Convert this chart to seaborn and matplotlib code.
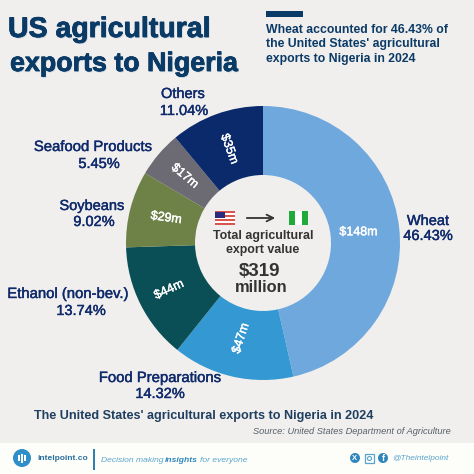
import matplotlib
matplotlib.use('Agg')
import matplotlib.pyplot as plt
import matplotlib.patheffects as pe
from matplotlib.patches import Circle, Rectangle
import numpy as np
import seaborn as sns

# dados
categories = ['Wheat', 'Food Preparations', 'Ethanol (non-bev.)', 'Soybeans', 'Seafood Products', 'Others']
shares = [46.43, 14.32, 13.74, 9.02, 5.45, 11.04]
values = ['$148m', '$47m', '$44m', '$29m', '$17m', '$35m']
colors = ['#6fa8dc', '#3498d3', '#0b4f56', '#6e8248', '#6c6a72', '#0a2a6c']

sns.set_theme(style='white')
plt.rcParams['font.family'] = ['Liberation Sans', 'DejaVu Sans']

BG = '#f0efee'
NAVY = '#0a3a66'
LABEL = '#0f2a6b'
H = 474

fig = plt.figure(figsize=(4.74, 4.74), dpi=100, facecolor=BG)
ax = fig.add_axes([0, 0, 1, 1])
ax.set_facecolor(BG)


def put(x, y, s, **kw):
    kw.setdefault('ha', 'center')
    kw.setdefault('va', 'center')
    return ax.text(x, H - y, s, **kw)


# donut
wedges, _ = ax.pie(shares, colors=colors, startangle=90, counterclock=False,
                   center=(263, H - 243), radius=137, frame=True,
                   wedgeprops=dict(width=137 - 68, edgecolor='none'))
ax.set_xlim(0, 474)
ax.set_ylim(0, 474)
ax.set_aspect('equal')
ax.axis('off')

# valores dentro das fatias
rotations = [0, 72, 25, -8, -40, -70]
radii = [96, 98, 105, 100, 103, 100]
semi = [pe.withStroke(linewidth=0.3, foreground='white')]
for w, v, rot, r in zip(wedges, values, rotations, radii):
    a = np.deg2rad((w.theta1 + w.theta2) / 2)
    ax.text(263 + r * np.cos(a), H - 243 + r * np.sin(a), v, color='white', fontsize=9,
            rotation=rot, ha='center', va='center', rotation_mode='anchor', path_effects=semi)

# rotulos externos
name_pos = [(428, 221), (160, 378), (68, 294), (92, 206), (93, 147), (183, 94)]
pct_pos = [(428, 236), (160, 394), (81, 311), (94, 222), (99, 164), (184, 111)]
name_sizes = [10.5, 10.7, 10.7, 10.5, 10.7, 10.5]
heavy = [pe.withStroke(linewidth=0.3, foreground=LABEL)]
for (x, y), (px, py), c, s, fs in zip(name_pos, pct_pos, categories, shares, name_sizes):
    put(x, y, c, color=LABEL, fontsize=fs, path_effects=heavy)
    put(px, py, f'{s:.2f}%', color=LABEL, fontsize=10.5, path_effects=heavy)

# titulo
title_fx = [pe.withSimplePatchShadow(offset=(0.6, -0.8), shadow_rgbFace='#9fb4c6', alpha=0.6),
            pe.withStroke(linewidth=0.5, foreground=NAVY)]
put(8, 30, 'US agricultural', color=NAVY, fontsize=20.5, fontweight='bold', ha='left', path_effects=title_fx)
put(10, 64, 'exports to Nigeria', color=NAVY, fontsize=19.3, fontweight='bold', ha='left', path_effects=title_fx)

# destaque
ax.add_patch(Rectangle((266, H - 17), 37, 6, color=NAVY, lw=0))
for y, s in zip([30, 44, 59], ['Wheat accounted for 46.43% of', "the United States' agricultural",
                               'exports to Nigeria in 2024']):
    put(266, y, s, color=NAVY, fontsize=8.8, fontweight='bold', ha='left')

# centro
for i in range(7):
    ax.add_patch(Rectangle((215, H - 225 + i * 2), 20, 2, color='#d9534f' if i % 2 == 0 else 'white', lw=0))
ax.add_patch(Rectangle((215, H - 218), 10, 6, color='#2a2a80', lw=0))
ax.annotate('', xy=(278, H - 218), xytext=(244, H - 218),
            arrowprops=dict(arrowstyle='->', color='#333333', lw=1.3))
ax.add_patch(Rectangle((289, H - 225), 19, 14, color='white', lw=0))
ax.add_patch(Rectangle((289, H - 225), 6.5, 14, color='#1faa3a', lw=0))
ax.add_patch(Rectangle((302, H - 225), 6.5, 14, color='#1faa3a', lw=0))
put(263, 236, 'Total agricultural', color='#333333', fontsize=8.9, fontweight='bold')
put(263, 250, 'export value', color='#333333', fontsize=8.9, fontweight='bold')
put(260, 271, '$319', color='#333333', fontsize=13.5, fontweight='bold')
put(261, 287, 'million', color='#333333', fontsize=11.8, fontweight='bold')

# rodape
put(34, 416, "The United States' agricultural exports to Nigeria in 2024", color='#1f3f5f',
    fontsize=9.1, fontweight='bold', ha='left')
put(451, 432, 'Source: United States Department of Agriculture', color='#55606a',
    fontsize=6.7, style='italic', ha='right')
ax.add_patch(Rectangle((0, 0), 474, H - 443, color='#fdfdf9', lw=0))
ax.add_patch(Circle((22, H - 458), 9, color='#2f8fc8', lw=0))
for dx, hh in zip([-3, 0, 3], [6, 9, 6]):
    ax.add_patch(Rectangle((22 + dx - 0.8, H - 458 - hh / 2), 1.6, hh, color='white', lw=0))
put(37, 458, 'intelpoint.co', color='#2a6f9e', fontsize=6, fontweight='bold', ha='left')
ax.add_patch(Rectangle((93.5, H - 470), 1.2, 21, color='#2f7fb0', lw=0))
put(101, 460, 'Decision making', color='#5aa5cf', fontsize=6.1, style='italic', ha='left')
put(165, 460, 'insights', color='#2f86bd', fontsize=6.1, style='italic', fontweight='bold', ha='left')
put(200, 460, 'for everyone', color='#5aa5cf', fontsize=6.1, style='italic', ha='left')
ax.add_patch(Circle((355, H - 458), 5, color='#2f86bd', lw=0))
put(355, 458, 'X', color='white', fontsize=5.5, fontweight='bold')
ax.add_patch(Rectangle((365, H - 463), 9, 9, fill=False, ec='#5aa5cf', lw=0.9))
ax.add_patch(Circle((369.5, H - 458.5), 2, fill=False, ec='#5aa5cf', lw=0.8))
ax.add_patch(Circle((383, H - 458), 5, color='#2f86bd', lw=0))
put(383.5, 458.5, 'f', color='white', fontsize=6.5, fontweight='bold')
put(392, 459, '@Theintelpoint', color='#5aa5cf', fontsize=6, style='italic', ha='left')

fig.savefig('out.png', dpi=100, facecolor=BG)
